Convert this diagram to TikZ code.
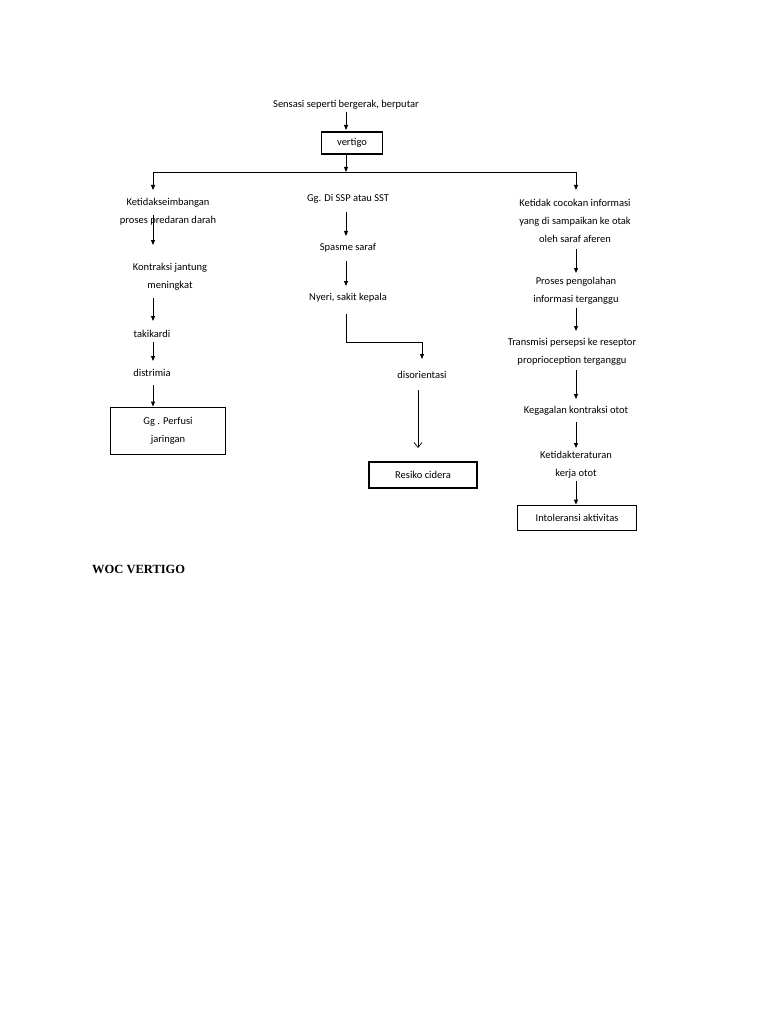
\documentclass[tikz,border=0pt]{standalone}
\usepackage{fontspec}
\setmainfont{Carlito}
\newfontfamily\timesf{Liberation Serif}
\usetikzlibrary{arrows.meta}
\begin{document}
\begin{tikzpicture}[x=1pt,y=-1pt,
  lbl/.style={font=\fontsize{10.5}{18}\selectfont,align=center,inner sep=0pt},
  thickbox/.style={draw,line width=1.8pt},
  arr/.style={-{Triangle[length=5pt,width=4pt]},line width=0.9pt},
  ln/.style={line width=0.9pt}]
\useasboundingbox[fill=white] (0,0) rectangle (768,1024);
\node[lbl] (s) at (346,105) {Sensasi seperti bergerak, berputar};
\node[thickbox,minimum width=61pt,minimum height=22pt,lbl] (v) at (352,143) {vertigo};
\draw[arr] (346,112) -- (346,130);
\coordinate (hl) at (153,172); \coordinate (hr) at (576,172); \coordinate (hm) at (346,172);
\draw[ln] (hl) -- (hr);
\draw[arr] (346,154) -- (hm);
% left
\node[lbl] (l1) at (168,212) {Ketidakseimbangan\\proses predaran darah};
\node[lbl] (l2) at (170,277) {Kontraksi jantung\\meningkat};
\node[lbl] (l3) at (152,334) {takikardi};
\node[lbl] (l4) at (152,373) {distrimia};
\node[thickbox,minimum width=115pt,minimum height=47pt,lbl] (l5) at (168,431) {Gg . Perfusi\\jaringan};
\draw[arr] (hl) -- (153,190);
\draw[arr] (153,215) -- (153,245);
\draw[arr] (153,298) -- (153,321);
\draw[arr] (153,342) -- (153,361);
\draw[arr] (153,385) -- (l5.north -| 153,0);
% middle
\node[lbl] (m1) at (348,199) {Gg. Di SSP atau SST};
\node[lbl] (m2) at (348,248) {Spasme saraf};
\node[lbl] (m3) at (348,298) {Nyeri, sakit kepala};
\node[lbl] (m4) at (422,375) {disorientasi};
\node[draw,line width=1.3pt,minimum width=108pt,minimum height=26pt,lbl] (m5) at (423,475) {Resiko cidera};
\draw[arr] (346,212) -- (346,236);
\draw[arr] (346,261) -- (346,286);
\draw[ln,-{Triangle[length=5pt,width=4pt]}] (346,314) -- (346,342) -- (422,342) -- (422,359);
\draw[-{Straight Barb[length=5pt,width=8pt]},line width=0.7pt] (418,390) -- (418,448);
% right
\node[lbl] (r1) at (575,221) {Ketidak cocokan informasi\\yang di sampaikan ke otak\\oleh saraf aferen};
\node[lbl] (r2) at (576,291) {Proses pengolahan\\informasi terganggu};
\node[lbl] (r3) at (572,352) {Transmisi persepsi ke reseptor\\proprioception terganggu};
\node[lbl] (r4) at (576,411) {Kegagalan kontraksi otot};
\node[lbl] (r5) at (576,465) {Ketidakteraturan\\kerja otot};
\node[thickbox,minimum width=119pt,minimum height=25pt,lbl] (r6) at (577,518) {Intoleransi aktivitas};
\draw[arr] (hr) -- (576,190);
\draw[arr] (576,249) -- (576,273);
\draw[arr] (576,308) -- (576,331);
\draw[arr] (576,370) -- (576,399);
\draw[arr] (576,422) -- (576,448);
\draw[arr] (576,481) -- (r6.north -| 576,0);
\node[anchor=west,inner sep=0pt,font=\timesf\bfseries\fontsize{12.5}{14}\selectfont] (t) at (92,569) {WOC VERTIGO};
\end{tikzpicture}
\end{document}
